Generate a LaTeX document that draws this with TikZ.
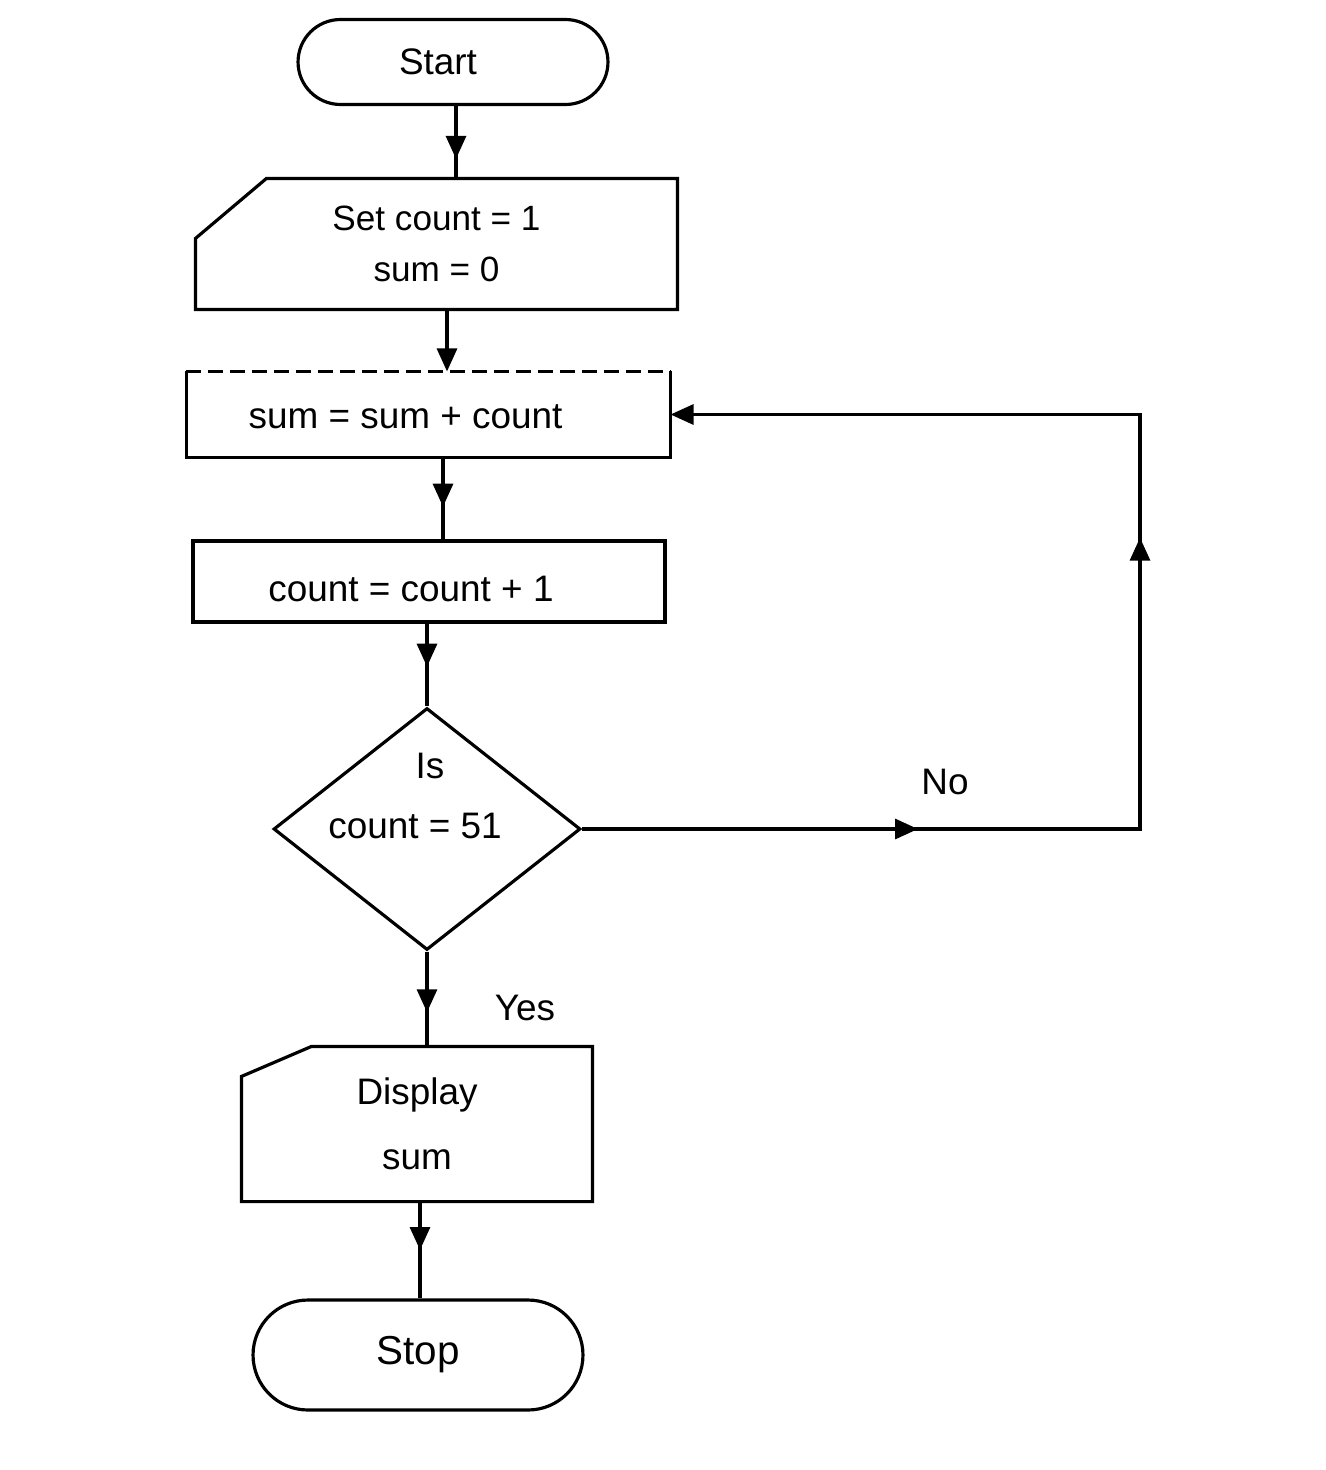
\documentclass[tikz,border=0pt]{standalone}
\usepackage{fontspec}
\setmainfont{Liberation Sans}
\usetikzlibrary{arrows.meta,shapes.misc,shapes.geometric,calc,decorations.markings}

\begin{document}
\begin{tikzpicture}[x=0.02cm, y=-0.02cm, line width=1.8pt,
  >={Triangle[length=0.46cm,width=0.4cm]},
  txt/.style={font=\fontsize{21}{26}\selectfont},
  term/.style={txt, draw, rounded rectangle, inner sep=0pt},
  proc/.style={txt, draw, rectangle, inner sep=0pt},
  card/.style={txt, rectangle, inner sep=0pt, align=center},
  decision/.style={draw, diamond, inner sep=0pt},
  arrowat/.style={postaction={decorate}, decoration={markings, mark=at position #1 with {\arrow{>}}}}]
\useasboundingbox (0,0) rectangle (1325,1470);

% Start
\node[term, minimum width=6.2cm, minimum height=1.7cm, label={[txt, name=starttxt, xshift=-0.3cm]center:Start}] (start) at (453,62) {};

% Initialisation (card)
\node[card, minimum width=9.58cm, minimum height=2.56cm, font=\fontsize{20}{29}\selectfont] (setb) at (436.5,244) {Set count = 1\\sum = 0};
\draw ($(setb.north west)+(71,0)$) -- (setb.north east) -- (setb.south east) -- (setb.south west) -- ($(setb.north west)+(0,60)$) -- cycle;

% Accumulate
\node[rectangle, minimum width=9.62cm, minimum height=1.66cm, label={[txt, name=sumtxt, xshift=-0.46cm, yshift=-0.05cm]center:sum = sum + count}] (sumb) at (428.5,414.5) {};
\draw (sumb.north east) -- (sumb.south east) -- (sumb.south west) -- (sumb.north west);
\draw[dash pattern=on 0.3cm off 0.14cm] (sumb.north west) -- (sumb.north east);

% Increment
\node[proc, minimum width=9.44cm, minimum height=1.62cm, label={[txt, name=cnttxt, xshift=-0.36cm, yshift=-0.15cm]center:count = count + 1}] (cntb) at (429,581.5) {};

% Test
\node[decision, minimum width=6.14cm, minimum height=4.84cm] (dec) at (427,829) {};
\node[txt] (istxt) at (430,766) {Is};
\node[txt] (qtxt) at (415,826) {count = 51};

% Output (card)
\node[card, minimum width=6.96cm, minimum height=3.04cm, font=\fontsize{21}{37}\selectfont] (disp) at (417,1124) {Display\\sum};
\draw ($(disp.north west)+(70,0)$) -- (disp.north east) -- (disp.south east) -- (disp.south west) -- ($(disp.north west)+(0,30)$) -- cycle;

% Stop
\node[term, minimum width=6.6cm, minimum height=2.2cm, font=\fontsize{23}{28}\selectfont] (stop) at (418,1355) {Stop};

% Branch labels
\node[txt] (notxt) at (945,782) {No};
\node[txt] (yestxt) at (525,1008) {Yes};

% Flow
\draw[arrowat=0.73] (start.south -| 456,0) -- (setb.north -| 456,0);
\draw[->] (setb.south -| 447,0) -- (sumb.north -| 447,0);
\draw[arrowat=0.6] (sumb.south -| 443,0) -- (cntb.north -| 443,0);
\draw[arrowat=0.52] (cntb.south -| dec.north) -- (dec.north);
\draw[arrowat=0.64] (dec.south) -- (disp.north -| dec.south);
\draw[arrowat=0.5] (disp.south -| 420,0) -- (stop.north -| 420,0);

% Loop back (No)
\coordinate (nob) at (1140,829);
\draw[->, postaction={decorate}, decoration={markings, mark=at position 0.233 with {\arrow{>}}, mark=at position 0.589 with {\arrow{>}}}]
  (dec.east) -- (nob) -- (nob |- sumb.east) -- (sumb.east);

\end{tikzpicture}
\end{document}
